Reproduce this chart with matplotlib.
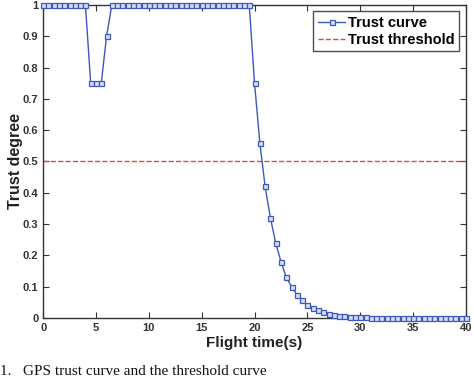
import matplotlib
matplotlib.use('Agg')
import matplotlib.pyplot as plt
import numpy as np

# time axis samples (s) and trust values
t_head = [0, 0.5, 1, 1.5, 2, 2.5, 3, 3.5, 4, 4.5, 5, 5.5, 6]
trust_head = [1, 1, 1, 1, 1, 1, 1, 1, 1, 0.75, 0.75, 0.75, 0.9]
t_flat = [6.5, 7, 7.5, 8, 8.5, 9, 9.5, 10, 10.5, 11, 11.5, 12, 12.5, 13, 13.5,
          14, 14.5, 15, 15.5, 16, 16.5, 17, 17.5, 18, 18.5, 19, 19.5]
trust_flat = [1] * len(t_flat)
t_tail = [20, 20.5, 21, 21.5, 22, 22.5, 23, 23.5, 24, 24.5, 25, 25.5, 26, 26.5,
          27, 27.5, 28, 28.5, 29, 29.5, 30, 30.5, 31, 31.5, 32, 32.5, 33, 33.5,
          34, 34.5, 35, 35.5, 36, 36.5, 37, 37.5, 38, 38.5, 39, 39.5, 40]
trust_tail = [0.75, 0.56, 0.42, 0.32, 0.24, 0.18, 0.13, 0.10, 0.075, 0.056,
              0.042, 0.032, 0.024, 0.018, 0.013, 0.010, 0.0075, 0.0056, 0.0042,
              0.0032, 0.0024, 0.0018, 0.0013, 0.0010, 0.0008, 0.0006, 0.0004,
              0.0003, 0.0002, 0.0002, 0.0001, 0.0001, 0.0001, 0, 0, 0, 0, 0, 0, 0, 0]
threshold = 0.5

t = t_head + t_flat + t_tail
trust = trust_head + trust_flat + trust_tail

plt.rcParams['font.family'] = ['Liberation Sans', 'DejaVu Sans']
plt.rcParams['font.weight'] = 'bold'

fig = plt.figure(figsize=(4.74, 3.79), dpi=100)
ax = fig.add_axes([0.091, 0.161, 0.892, 0.826])

blue = '#3d58bc'
ax.plot(t, trust, '-s', color=blue, lw=1.0, ms=3.6, mfc='#d5ddf4', mec=blue,
        mew=0.9, label='Trust curve', clip_on=False, zorder=3)
ax.axhline(threshold, color='#e0474c', ls='--', lw=1.0, label='Trust threshold')

ax.set_xlim(0, 40)
ax.set_ylim(0, 1)
ax.set_xticks(np.arange(0, 41, 5))
ax.set_yticks(np.arange(0, 1.01, 0.1))
ax.set_yticklabels(['0', '0.1', '0.2', '0.3', '0.4', '0.5', '0.6', '0.7', '0.8', '0.9', '1'])
ax.tick_params(direction='in', top=True, right=True, labelsize=8,
               labelcolor='#333333', color='#333333', length=4, width=0.8)
for lab in ax.get_xticklabels() + ax.get_yticklabels():
    lab.set_fontweight('bold')
for s in ax.spines.values():
    s.set_color('#333333')
    s.set_linewidth(1.0)

ax.set_xlabel('Flight time(s)', fontsize=11, fontweight='bold', color='#222222', labelpad=2)
ax.set_ylabel('Trust degree', fontsize=11.5, fontweight='bold', color='#222222', labelpad=0)

leg = ax.legend(loc='upper right', fontsize=10.5, frameon=True, fancybox=False,
                edgecolor='#222222', borderpad=0.3, handlelength=1.9,
                handletextpad=0.2, labelspacing=0.2, borderaxespad=0.45)
leg.get_frame().set_linewidth(1.0)
for txt in leg.get_texts():
    txt.set_fontweight('bold')

fig.text(0.0, 0.002, '1.   GPS trust curve and the threshold curve', fontsize=11,
         family='Liberation Serif', fontweight='normal', color='#111111',
         ha='left', va='bottom')

fig.savefig('out.png', dpi=100)
